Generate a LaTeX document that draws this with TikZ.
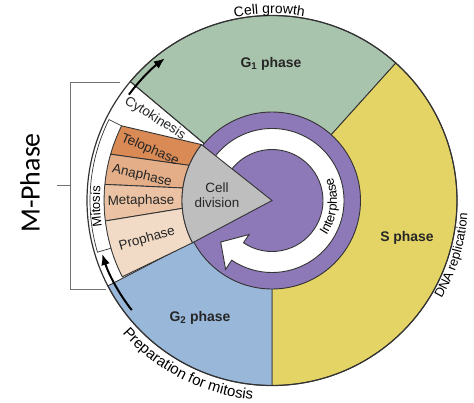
\documentclass[tikz,border=0pt]{standalone}
\usepackage{fontspec}
\setmainfont{Liberation Sans}
\newfontfamily\calibrifont{Carlito}
\usepackage{tikz}
\usetikzlibrary{arrows.meta,decorations.text}

\definecolor{gonegreen}{HTML}{A9C4AD}
\definecolor{syellow}{HTML}{E4D466}
\definecolor{gtwoblue}{HTML}{99B7D9}
\definecolor{interpurple}{HTML}{8D79B8}
\definecolor{divgray}{HTML}{BEBEBE}
\definecolor{telocol}{HTML}{D98A55}
\definecolor{anacol}{HTML}{E4AE88}
\definecolor{metacol}{HTML}{EBC3A4}
\definecolor{procol}{HTML}{F1DBC6}
\definecolor{edgecol}{HTML}{333333}

\newcommand{\curvedfont}{\fontsize{13}{15}\selectfont}
\newcommand{\growfont}{\fontsize{14}{16}\selectfont}
\newcommand{\prepfont}{\fontsize{15}{17}\selectfont}
\tikzstyle{sector} = [draw=edgecol, line width=0.9pt]
\tikzstyle{phaselabel} = [font=\bfseries\fontsize{14}{16}\selectfont, text=black!85]
\tikzstyle{steplabel} = [font=\fontsize{13.5}{15}\selectfont, text=black!85, inner sep=0pt]
\tikzstyle{cyclearrow} = [line width=2pt, -{Latex[length=11pt,width=9pt]}]
\tikzstyle{bracket} = [draw=black!55, line width=1pt]

\begin{document}
\begin{tikzpicture}[x=1bp, y=1bp]
\useasboundingbox (-272,-201.5) rectangle (202,200.5);
\fill[white] (-272,-201.5) rectangle (202,200.5);

% outer phases
\filldraw[sector, fill=gonegreen] (0,0) -- (48:185) arc[start angle=48, end angle=140, radius=185] -- cycle;
\filldraw[sector, fill=syellow] (0,0) -- (-90:185) arc[start angle=-90, end angle=48, radius=185] -- cycle;
\filldraw[sector, fill=gtwoblue] (0,0) -- (207.5:185) arc[start angle=207.5, end angle=270, radius=185] -- cycle;

% mitosis steps
\foreach \ao/\ai/\bo/\bi/\col in {153.6/141.6/164/157/telocol, 164/157/174.5/172/anacol,
    174.5/172/187/185/metacol, 187/185/207/208/procol}
  \filldraw[sector, fill=\col] (\ao:168) arc[start angle=\ao, end angle=\bo, radius=168]
    -- (\bi:90) arc[start angle=\bi, end angle=\ai, radius=90] -- cycle;
\filldraw[sector, fill=white, line width=0.7pt] (153.6:168) arc[start angle=153.6, end angle=196.5, radius=168]
  -- (196.5:182) arc[start angle=196.5, end angle=153.6, radius=182] -- cycle;

% interphase
\filldraw[sector, fill=interpurple] (0,0) circle[radius=88.5];
\filldraw[sector, fill=white] (150:72) arc[start angle=150, end angle=-124, radius=72]
  -- (-124:83) -- (-141:66) -- (-124:41) -- (-124:51) arc[start angle=-124, end angle=150, radius=51] -- cycle;
\filldraw[sector, fill=divgray] (0,0) -- (141.6:90) arc[start angle=141.6, end angle=208, radius=90] -- cycle;

\draw[sector] (140:88.5) -- (140:185);
\draw[edgecol, line width=1.2pt] (0,0) circle[radius=185];

\draw[cyclearrow] (143.5:178) arc[start angle=143.5, end angle=127, radius=178];
\draw[cyclearrow] (218:178) arc[start angle=218, end angle=197.5, radius=178];

\coordinate (brtopend) at (-152,118.5);
\coordinate (brtop) at (-202,118.5);
\coordinate (brbot) at (-202,-88.5);
\coordinate (brbotend) at (-166,-88.5);
\coordinate (brmid) at (-202,15.5);
\coordinate (brtick) at (-215,15.5);
\draw[bracket] (brtopend) -- (brtop) -- (brbot) -- (brbotend);
\draw[bracket] (brmid) -- (brtick);

\node[rotate=90, font=\calibrifont\fontsize{28}{30}\selectfont] (mphase) at (-242,17.5) {M-Phase};

\node[phaselabel] (gonelbl) at (-1,136.5) {G\textsubscript{1} phase};
\node[phaselabel] (slbl) at (135,-37.5) {S phase};
\node[phaselabel] (gtwolbl) at (-72,-117.5) {G\textsubscript{2} phase};
\node[steplabel, align=center] (divlbl) at (-55,5.5) {Cell\\division};
\node[steplabel, rotate=-32] (cyto) at (-117,82) {Cytokinesis};
\node[steplabel, rotate=-23] (telo) at (-122,50.5) {Telophase};
\node[steplabel, rotate=-13] (ana) at (-130,24.5) {Anaphase};
\node[steplabel, rotate=1] (meta) at (-131,-0.5) {Metaphase};
\node[steplabel, rotate=16] (pro) at (-125,-38.5) {Prophase};

\path[decorate, decoration={text along path, text align=center, text={|\growfont|Cell growth}}]
  (111:187) arc[start angle=111, end angle=70.6, radius=187];
\path[decorate, decoration={text along path, text align=center, text={|\prepfont|Preparation for mitosis}}]
  (210:200) arc[start angle=210, end angle=276, radius=200];
\path[decorate, decoration={text along path, text align=center, text={|\curvedfont|DNA replication}}]
  (-37:196) arc[start angle=-37, end angle=3, radius=196];
\path[decorate, decoration={text along path, text align=center, text={|\curvedfont|Interphase}}]
  (-40:65) arc[start angle=-40, end angle=28, radius=65];
\path[decorate, decoration={text along path, text align=center, text={|\curvedfont|Mitosis}}]
  (197:172) arc[start angle=197, end angle=167, radius=172];
\end{tikzpicture}
\end{document}
